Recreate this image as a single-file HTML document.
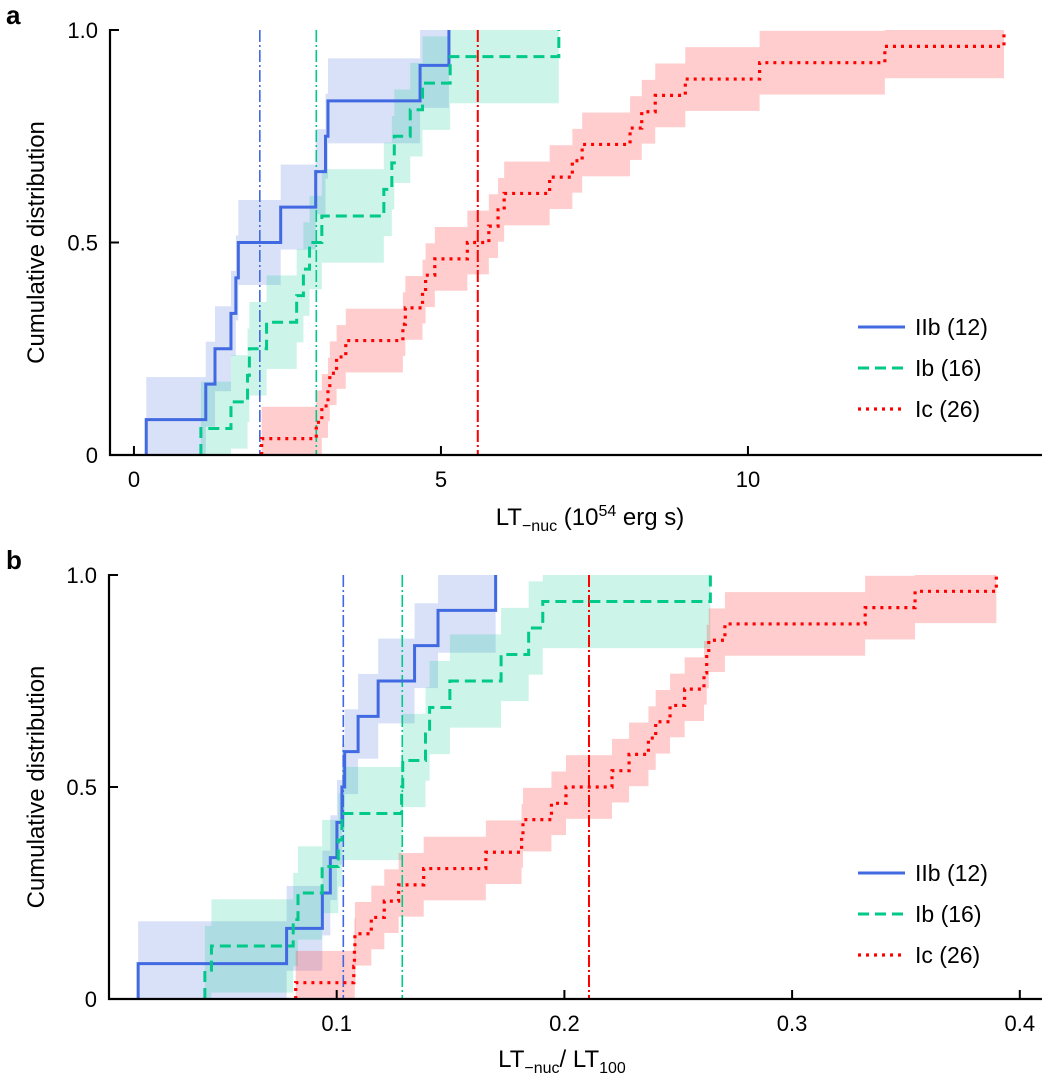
<!DOCTYPE html>
<html><head><meta charset="utf-8"><style>
html,body{margin:0;padding:0;background:#fff;}
svg{display:block;font-family:"Liberation Sans",Arial,sans-serif;}
</style></head><body>
<svg id="fig" width="1048" height="1090" viewBox="0 0 1048 1090"></svg>
<script>
// Panel a data (LT_-nuc, 1e54 erg s)
const aIIb = [0.2,1.17,1.32,1.58,1.66,1.7,2.39,2.96,3.12,3.16,4.66,5.13];
const aIb = [1.09,1.58,1.85,1.88,2.16,2.65,2.76,2.86,3.06,4.07,4.2,4.24,4.5,4.7,5.15,6.92];
const aIc = [2.08,2.97,3.06,3.16,3.19,3.3,3.45,4.38,4.42,4.7,4.75,4.9,5.43,5.78,5.93,6.03,6.77,7.14,7.3,8.08,8.27,8.49,8.98,10.19,12.23,14.17];
const aMedians = [2.05,2.97,5.6];
const aXTicks = [0,5,10];
// Panel b data (LT_-nuc / LT_100)
const bIIb = [0.0128,0.078,0.0937,0.0972,0.1001,0.1023,0.1035,0.1094,0.1182,0.1342,0.1445,0.1698];
const bIb = [0.0421,0.045,0.0809,0.083,0.0936,0.1007,0.1023,0.1285,0.129,0.139,0.1408,0.1497,0.1722,0.1843,0.1905,0.2641];
const bIc = [0.082,0.1075,0.1078,0.108,0.1152,0.1209,0.1272,0.1382,0.1655,0.1812,0.1818,0.1943,0.2007,0.2209,0.2284,0.2369,0.2401,0.2464,0.2528,0.2613,0.2625,0.2634,0.2705,0.3321,0.354,0.3897];
const bMedians = [0.1029,0.1288,0.2108];
const bXTicks = [0.1,0.2,0.3,0.4];
const yTicks = [0,0.5,1.0];
const yTickLabels = ['0','0.5','1.0'];
const seriesNames = ['IIb (12)','Ib (16)','Ic (26)'];

const NS='http://www.w3.org/2000/svg';
const svg=document.getElementById('fig');
function mk(tag,attrs,parent){const e=document.createElementNS(NS,tag);for(const k in attrs)e.setAttribute(k,attrs[k]);(parent||svg).appendChild(e);return e;}

const styles=[
 {col:'#4169e1',band:'rgba(65,105,225,0.2)',dash:'',w:3,h:0.1,key:'iib'},
 {col:'#00c98a',band:'rgba(0,200,140,0.2)',dash:'11,6',w:3,h:0.11,key:'ib'},
 {col:'#ff0000',band:'rgba(255,60,60,0.26)',dash:'3,5',w:3.2,h:0.075,key:'ic'}
];

function panel(cfg){
  const g=mk('g',{});
  
  
  const X=v=>cfg.x0+(v-cfg.xmin)*cfg.sx;
  const Y=v=>cfg.y0-v*(cfg.y0-cfg.y1);
  const series=cfg.series;
  series.forEach((d,si)=>{
    const st=styles[si];const n=d.length;
    const bg=mk('g',{},g);
    
    
    for(let k=1;k<n;k++){
      const lv=k/n;
      const lo=Math.max(0,lv-st.h),hi=Math.min(1,lv+st.h);
      const r=mk('rect',{x:X(d[k-1]),y:Y(hi),width:Math.max(1,X(d[k])-X(d[k-1])),height:Y(lo)-Y(hi),fill:st.band},bg);
      
      
    }
  });
  cfg.medians.forEach((m,si)=>{
    const l=mk('line',{x1:X(m),x2:X(m),y1:Y(1),y2:Y(0),stroke:styles[si].col,'stroke-width':si==2?2:1.6,'stroke-dasharray':'12,3,2,3'},g);
    
    
  });
  series.forEach((d,si)=>{
    const st=styles[si];const n=d.length;
    let p='M'+X(d[0])+','+Y(0);
    for(let k=0;k<n;k++){
      p+=' L'+X(d[k])+','+Y((k+1)/n);
      if(k<n-1)p+=' L'+X(d[k+1])+','+Y((k+1)/n);
    }
    const e=mk('path',{d:p,fill:'none',stroke:st.col,'stroke-width':st.w,'stroke-dasharray':st.dash},g);
    
    
  });
  const ax=mk('path',{d:`M${cfg.x0},${Y(1)-1} L${cfg.x0},${cfg.y0} L1042,${cfg.y0}`,fill:'none',stroke:'#000','stroke-width':2.2},g);
  
  
  yTicks.forEach((t,i)=>{
    mk('line',{x1:cfg.x0,x2:cfg.x0+9,y1:Y(t),y2:Y(t),stroke:'#000','stroke-width':2},g);
    const tx=mk('text',{x:cfg.x0-12,y:Y(t)+8,'text-anchor':'end','font-size':22},g);
    tx.textContent=yTickLabels[i];
    
    
  });
  cfg.xticks.forEach(t=>{
    mk('line',{x1:X(t),x2:X(t),y1:cfg.y0,y2:cfg.y0-9,stroke:'#000','stroke-width':2},g);
    const tx=mk('text',{x:X(t),y:cfg.y0+32,'text-anchor':'middle','font-size':22},g);
    tx.textContent=String(t);
    
    
  });
  const yl=mk('text',{x:0,y:0,'text-anchor':'middle','font-size':24,transform:`translate(44,${(Y(0)+Y(1))/2}) rotate(-90)`},g);
  yl.textContent='Cumulative distribution';
  
  
  const pl=mk('text',{x:6,y:Y(1)-6,'font-size':26,'font-weight':'bold'},g);
  pl.textContent=cfg.label;
  
  
  const lg=mk('g',{},g);
  
  
  seriesNames.forEach((s,si)=>{
    const ly=cfg.legY+si*41;
    const st=styles[si];
    mk('line',{x1:858,x2:905,y1:ly,y2:ly,stroke:st.col,'stroke-width':st.w,'stroke-dasharray':st.dash},lg);
    const t=mk('text',{x:915,y:ly+8,'font-size':23},lg);
    t.textContent=s;
    
    
  });
  return g;
}

panel({name:'panel-a',label:'a',x0:110,xmin:-0.39,sx:61.4,y0:455,y1:30,series:[aIIb,aIb,aIc],medians:aMedians,xticks:aXTicks,legY:327});
panel({name:'panel-b',label:'b',x0:109,xmin:0,sx:2277,y0:999,y1:575,series:[bIIb,bIb,bIc],medians:bMedians,xticks:bXTicks,legY:873});

const xa=mk('text',{x:590,y:525,'text-anchor':'middle','font-size':24});


xa.innerHTML='LT<tspan dy="6" font-size="16">−nuc</tspan><tspan dy="-6"> (10</tspan><tspan dy="-9" font-size="16">54</tspan><tspan dy="9"> erg s)</tspan>';
const xb=mk('text',{x:562,y:1067,'text-anchor':'middle','font-size':24});


xb.innerHTML='LT<tspan dy="6" font-size="16">−nuc</tspan><tspan dy="-6">/ LT</tspan><tspan dy="6" font-size="16">100</tspan>';
</script>
</body></html>
